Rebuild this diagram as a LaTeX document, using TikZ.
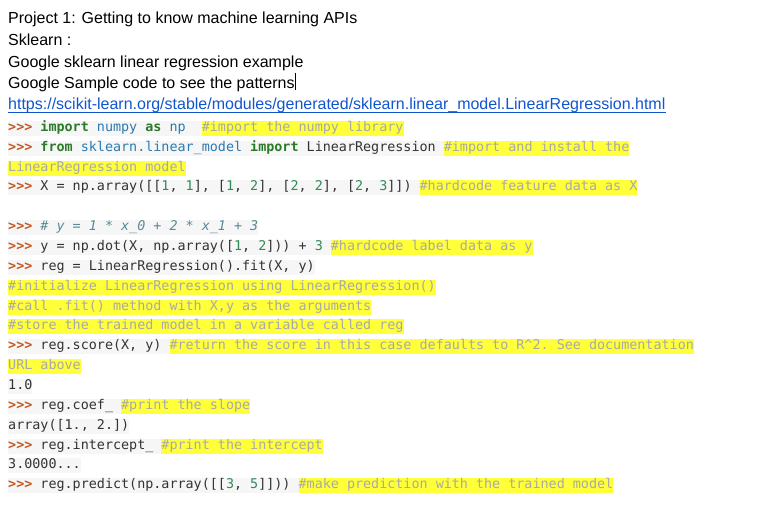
\documentclass[tikz,border=0pt]{standalone}
\usepackage{fontspec}
\usetikzlibrary{calc}
\setmainfont{Liberation Sans}
\setmonofont{DejaVu Sans Mono}
\definecolor{hl}{HTML}{FFFF3A}
\definecolor{cmt}{HTML}{A9A9A9}
\definecolor{codebg}{HTML}{F6F6F6}
\definecolor{pr}{HTML}{C4571F}
\definecolor{kw}{HTML}{2A7A2A}
\definecolor{md}{HTML}{2B7AB0}
\definecolor{nm}{HTML}{2E8B57}
\definecolor{it}{HTML}{5A8A99}
\definecolor{tx}{HTML}{333333}
\definecolor{lnk}{HTML}{1155CC}
\setlength{\fboxsep}{0pt}
\newcommand{\cstrut}{\rule[-4.5pt]{0pt}{15pt}}
\newcommand{\cm}[1]{\colorbox{hl}{\cstrut\color{cmt}#1}}
\newcommand{\pp}{\textcolor{pr}{\bfseries>>>}}
\newcommand{\kk}[1]{\textcolor{kw}{\bfseries #1}}
\newcommand{\mm}[1]{\textcolor{md}{#1}}
\newcommand{\nn}[1]{\textcolor{nm}{#1}}
\tikzset{
  doc/.style={anchor=base west, inner sep=0pt, font=\fontsize{16}{18}\selectfont, text=black},
  codeline/.style={anchor=base west, inner sep=0pt, fill=codebg, font=\ttfamily\fontsize{13.4}{16}\selectfont\cstrut, text=tx},
  plainline/.style={anchor=base west, inner sep=0pt, font=\ttfamily\fontsize{13.4}{16}\selectfont\cstrut, text=tx}
}
\begin{document}
\begin{tikzpicture}[x=1pt,y=-1pt]
\useasboundingbox (0,0) rectangle (777,526);
\node[doc] (t1) at (8,24) {Project 1: Getting to know machine learning APIs};
\node[doc] (t2) at (8,46) {Sklearn :};
\node[doc] (t3) at (8,68) {Google sklearn linear regression example};
\node[doc] (t4) at (8,89) {Google Sample code to see the patterns};
\draw[line width=1pt] (t4.east) ++(1,-12) coordinate (c1) -- ++(0,17) coordinate (c2);
\node[doc, text=lnk] (t5) at (8,110) {https://scikit-learn.org/stable/modules/generated/sklearn.linear\_model.LinearRegression.html};
\draw[lnk, line width=0.8pt] ($(t5.base west)+(0,2)$) -- ($(t5.base east)+(0,2)$);
\node[codeline] (l1) at (8,132) {\pp{} \kk{import} \mm{numpy} \kk{as} \mm{np}\ \ \cm{\#import the numpy library}};
\node[codeline] (l2) at (8,152) {\pp{} \kk{from} \mm{sklearn.linear\_model} \kk{import} LinearRegression \cm{\#import and install the}};
\node[plainline] (l2b) at (8,172) {\cm{LinearRegression model}};
\node[codeline] (l3) at (8,191) {\pp{} X = np.array([[\nn{1}, \nn{1}], [\nn{1}, \nn{2}], [\nn{2}, \nn{2}], [\nn{2}, \nn{3}]]) \cm{\#hardcode feature data as X}};
\node[codeline] (l4) at (8,231) {\pp{} \textcolor{it}{\itshape\# y = 1 * x\_0 + 2 * x\_1 + 3}};
\node[codeline] (l5) at (8,251) {\pp{} y = np.dot(X, np.array([\nn{1}, \nn{2}])) + \nn{3} \cm{\#hardcode label data as y}};
\node[codeline] (l6) at (8,271) {\pp{} reg = LinearRegression().fit(X, y)};
\node[plainline] (l7) at (8,291) {\cm{\#initialize LinearRegression using LinearRegression()}};
\node[plainline] (l8) at (8,311) {\cm{\#call .fit() method with X,y as the arguments}};
\node[plainline] (l9) at (8,330) {\cm{\#store the trained model in a variable called reg}};
\node[codeline] (l10) at (8,350) {\pp{} reg.score(X, y) \cm{\#return the score in this case defaults to R\^{}2. See documentation}};
\node[plainline] (l10b) at (8,370) {\cm{URL above}};
\node[codeline] (l11) at (8,390) {1.0};
\node[codeline] (l12) at (8,410) {\pp{} reg.coef\_ \cm{\#print the slope}};
\node[codeline] (l13) at (8,430) {array([1., 2.])};
\node[codeline] (l14) at (8,450) {\pp{} reg.intercept\_ \cm{\#print the intercept}};
\node[codeline] (l15) at (8,469) {3.0000...};
\node[codeline] (l16) at (8,489) {\pp{} reg.predict(np.array([[\nn{3}, \nn{5}]])) \cm{\#make prediction with the trained model}};
\end{tikzpicture}
\end{document}
